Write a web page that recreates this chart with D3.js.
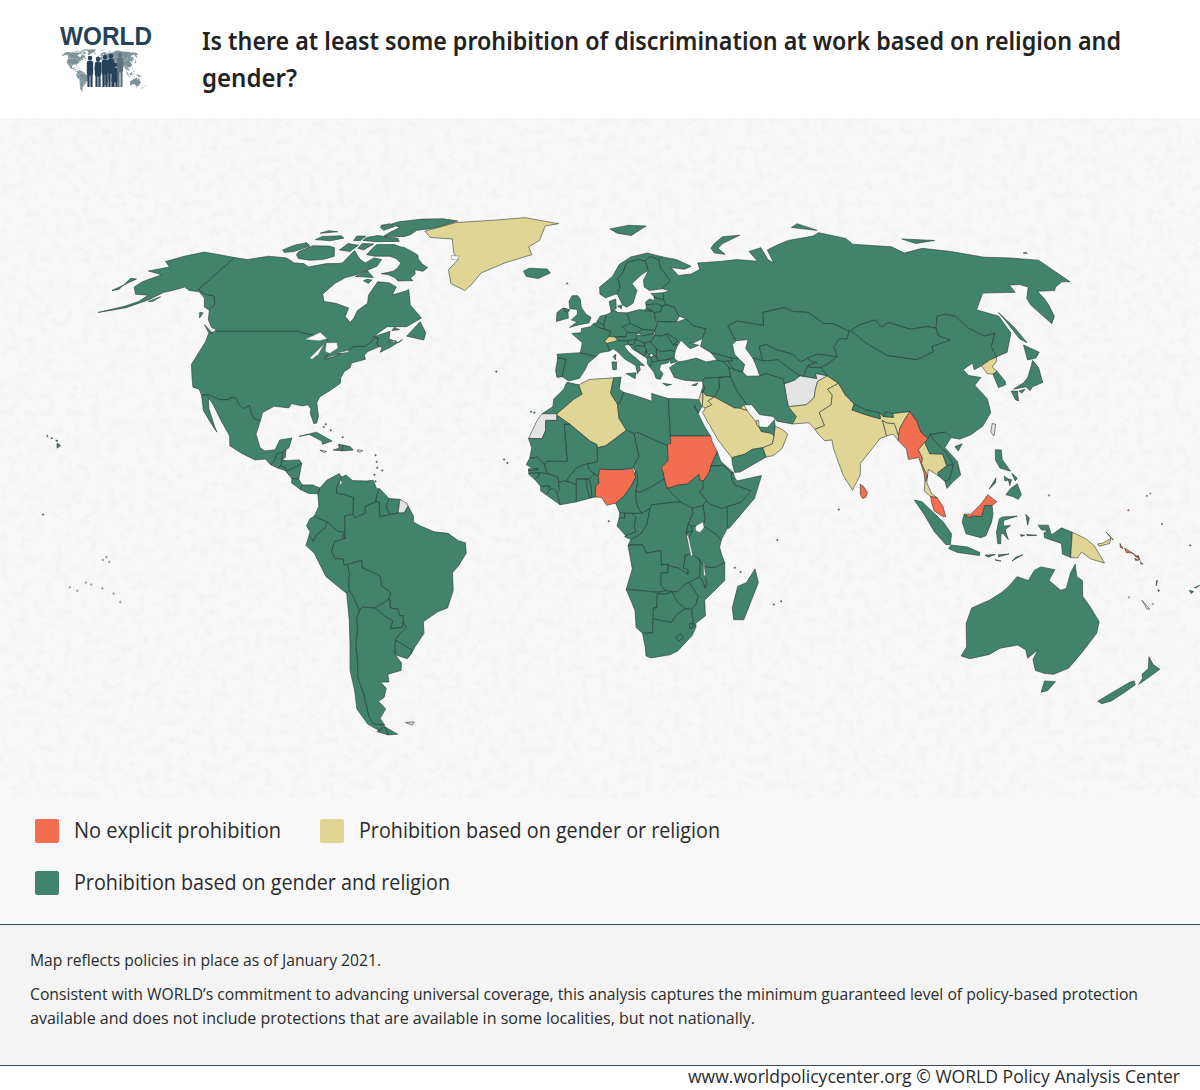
<!DOCTYPE html>
<html lang="en">
<head>
<meta charset="UTF-8" />
<title>Prohibition of discrimination at work</title>
<style>
  html, body { margin: 0; padding: 0; background: #fff; overflow: hidden; }
  svg { display: block; }
  text { font-family: "Open Sans", "Noto Sans", sans-serif; fill: #2b2b2b; }
</style>
</head>
<body>
<div id="app"></div>
<script src="https://cdn.jsdelivr.net/npm/d3@7"></script>
<script>
// Legend + country status, everything not listed here is green
const legendLabels = ["No explicit prohibition", "Prohibition based on gender or religion", "Prohibition based on gender and religion"];
const noProhibition = ["Nigeria", "Sudan", "Myanmar", "Sri Lanka", "Malaysia", "Malaysia East", "Solomon Islands", "Palau", "Pohnpei", "Nauru"];
const genderOrReligion = ["Greenland", "Algeria", "Saudi Arabia", "Oman", "Jordan", "Qatar", "Kuwait", "Israel", "Pakistan", "India", "Bangladesh", "Thailand", "Switzerland", "North Korea", "Papua New Guinea", "New Britain", "New Ireland", "Jamaica", "Kosrae"];
const noData = ["Afghanistan", "Western Sahara", "French Guiana", "Taiwan", "Puerto Rico", "New Caledonia", "Kosovo", "Falklands", "Marquesas", "Tahiti", "Tuamotu", "Loyalty", "Cooks"];

// Outlines as lon lat pairs
const northAmerica = [
  ["USA", "-124.7 48.4 -122.8 49 -95.2 49 -94.6 48.7 -92 48.3 -89.6 48 -88.4 48.3 -84.8 46.8 -83.6 46 -82.5 45.3 -82.1 43.5 -82.5 42.6 -83.1 42.1 -82.7 41.7 -79 42.8 -79.1 43.3 -76.8 43.6 -76.3 44.2 -75 45 -71.5 45 -70.3 45.9 -69.2 47.4 -68.2 47.3 -67.8 45.7 -67 44.9 -70 43.7 -70.8 42.8 -70 41.7 -74 40.7 -74 39.5 -75.5 38.5 -76 37 -75.7 35.5 -77.9 33.9 -81 32 -81.4 30.5 -80.1 27 -80.3 25.3 -81.1 25.2 -82.7 27.8 -82.8 29 -84 30 -85.5 29.7 -89 30.3 -89.5 29.2 -91.5 29.4 -94 29.6 -97.1 28 -97.2 25.9 -99.2 26.4 -100.5 28 -101.5 29.8 -103.2 29 -104.7 30 -106.5 31.8 -108.2 31.8 -108.2 31.3 -111 31.3 -114.8 32.5 -117.1 32.5 -118.5 34 -120.6 34.5 -122.5 37.5 -124.3 40.4 -124.1 43 -124 46.3", "-156 20.2 -154.9 19.6 -155.7 18.9 -156 19.6", "-156.7 21 -156 20.8 -156.4 20.6", "-158.3 21.6 -157.7 21.4 -158.1 21.3"],
  ["Alaska", "-141 69.6 -148 70.4 -156.5 71.3 -162 70 -166.5 68.4 -162 66.8 -168 65.6 -161 64.5 -165 62.5 -165.5 61 -162 59 -157 58.7 -158 57 -161 55.7 -168 54 -164 54.6 -160 55.3 -155 57.5 -152.5 59.5 -150 60 -147 61 -144 60 -140 59.7 -136 58 -133 55.5 -130.3 54.6 -130 56 -133 58.5 -137 59 -141 60.3", "-154.5 57 -152 58.3 -153 57", "-172 60 -170 60.3 -171 63.5 -168.5 63.3"],
  ["Canada", "-141 69.6 -135 69 -128 70 -120 69.5 -115 68 -111 67.8 -108 66.8 -102 67.8 -98 67.8 -96 68 -95.5 71.8 -92 70 -90 69 -87 68 -85 69.5 -81.5 69 -81.5 67 -87 64.5 -90.5 63.7 -93 62 -94.7 59 -92.5 57 -88 56.5 -82.5 55.2 -82.2 52.9 -79.5 51.3 -79 52.5 -79 54.5 -76.8 56.5 -78 58.7 -77.5 62.5 -73 62.2 -69.5 61 -69.5 58.8 -65.5 59.8 -64.5 60.3 -61.5 56 -56 52.5 -60 50.2 -66.5 50.2 -70 47.5 -65 49 -64.5 47 -61 46 -60 46.8 -63.5 44.6 -66 43.5 -65.8 44.8 -67 44.9 -67.8 45.7 -68.2 47.3 -69.2 47.4 -70.3 45.9 -71.5 45 -75 45 -76.3 44.2 -76.8 43.6 -79.1 43.3 -79 42.8 -82.7 41.7 -83.1 42.1 -82.5 42.6 -82.1 43.5 -82.5 45.3 -83.6 46 -84.8 46.8 -88.4 48.3 -89.6 48 -92 48.3 -94.6 48.7 -95.2 49 -122.8 49 -123.3 49.5 -125 50 -128 52 -130.3 54.6 -130 56 -133 58.5 -137 59 -141 60.3",
    "-89 72 -88.5 73.7 -85 73.7 -81 73.7 -78 73 -76 72.8 -71 71.3 -68 70.3 -67 69.2 -64 67.5 -61.5 66.6 -62.5 65.5 -66 66 -65 64.8 -66 63.5 -64.5 62.8 -67 62.8 -70 62.7 -72 63.7 -75 64.5 -78 64.8 -74 65.5 -73 66.5 -73 68 -76 69.3 -79 70 -85 70 -89 70.5",
    "-117.5 70.5 -118 71.5 -115 73.3 -108 73.2 -105 72.7 -101.5 70 -105 69 -110 68.8 -115 69.3",
    "-125.5 72 -123 73.5 -119 74.3 -116 73.2 -120 71.5 -123.5 71.2",
    "-89 76.5 -80 76.3 -78 77 -77 78.5 -72 79 -67 80 -62 82.2 -70 83.1 -80 83 -90 81.8 -92 80.8 -86 79.5 -88 78",
    "-96 80.3 -93 81 -89 79.8 -92 78.5 -95 79.5",
    "-96 76 -92 76.7 -82 75.8 -80 74.7 -90 74.6 -96 75",
    "-117 75.3 -110 74.9 -105.5 75.8 -108 76.6 -116 76.4",
    "-100 75 -97 75 -97 76.5 -101 76.5",
    "-102 72 -97 71.5 -96 73.5 -101 74",
    "-95 74 -90 73.9 -92 72 -95 72.5",
    "-119 77.5 -112 78 -117 78.4",
    "-59 47.7 -53 46.7 -53 48.6 -56 51.5", "-87 64 -80 63.7 -84 65.7", "-128 50.7 -123.5 48.5 -125 48.7", "-64.4 46.3 -62 45.9 -62 46.5", "-133 54 -131.7 53.9 -131.5 52.5", "-64 50 -62 49.4 -64.5 49.2", "-83 62.8 -80.5 62 -80 63 -82 63.2"],
  ["Greenland", "-73 78.2 -68 76 -58 75.5 -54 71 -51 69 -53 66 -50 62 -44 60 -42 62 -40 65 -32 68 -22 70.5 -24 73 -20 75 -19 80 -13 81 -30 83.6 -45 82.5 -62 81.5"],
  ["Mexico", "-117.1 32.5 -114.8 32.5 -111 31.3 -108.2 31.3 -108.2 31.8 -106.5 31.8 -104.7 30 -103.2 29 -101.5 29.8 -100.5 28 -99.2 26.4 -97.2 25.9 -97.8 22.5 -96 19 -94.5 18.2 -91.5 18.5 -90.5 21 -87 21.5 -87.5 19 -88.3 18.5 -89.1 17.9 -91 17.3 -90.9 16.3 -92.2 14.6 -94 16.1 -97 15.9 -101 17.5 -105 19.5 -105.5 22 -109 26 -112.5 30 -114.7 31.8 -113.5 29 -110.5 24.5 -109.5 23 -112 25.5 -115 28.5"],
  ["Guatemala", "-92.2 14.6 -90.9 16.3 -91 17.3 -89.1 17.9 -89.2 15.9 -88.2 15.7 -89.3 14.4 -90.1 13.8"],
  ["Belize", "-89.1 17.9 -88.3 18.5 -88.2 16.5 -89.2 15.9"],
  ["El Salvador", "-90.1 13.8 -89.3 14.4 -87.8 13.9 -87.8 13.2"],
  ["Honduras", "-89.2 15.9 -88.2 15.7 -84 15.9 -83.2 15 -85 14 -87 13 -87.8 13.2 -87.8 13.9 -89.3 14.4"],
  ["Nicaragua", "-87.7 13 -85 14 -83.2 15 -83.7 11 -85.7 11.1"],
  ["Costa Rica", "-85.7 11.1 -83.7 11 -82.6 9.5 -83 8.3 -85.7 10"],
  ["Panama", "-83 8.3 -82.6 9.5 -79.5 9.5 -77.4 8.7 -77.9 7.2 -80.5 7.3 -81.5 7.7"],
  ["Cuba", "-85 21.9 -80 23 -75 20.7 -77.7 19.9 -78 20.7 -82 22.4"],
  ["Haiti", "-74.4 18.4 -71.7 18.2 -71.7 19.7 -73 19.9 -72.7 18.9"],
  ["Dominican Republic", "-71.7 18.2 -68.5 18.4 -69.5 19.3 -71.7 19.7"],
  ["Jamaica", "-78.3 18.4 -76.3 18.1 -77 17.8"],
  ["Puerto Rico", "-67.2 18.5 -65.7 18.3 -66.3 17.9 -67.2 18"]
];

const southAmerica = [
  ["Colombia", "-77.9 7.2 -77.4 8.7 -75.5 10.7 -72 12.4 -71.3 11.5 -72.5 9 -72.5 7.4 -70 7 -67.5 6.2 -67.5 2 -70 1.5 -69.8 -0.5 -69.9 -4.2 -70.7 -3.8 -70 -2.7 -72 -2.4 -75 0 -78.8 1.4 -77.5 4"],
  ["Venezuela", "-71.3 11.5 -70 12 -68 10.6 -64 10.5 -62 10.7 -60.9 8.6 -60 8.5 -60.7 7 -61 5.2 -60.7 5.2 -64 4 -64 2.3 -67 1 -67.5 2 -67.5 6.2 -70 7 -72.5 7.4 -72.5 9"],
  ["Guyana", "-60 8.5 -57.2 6 -58 4 -56.9 1.9 -59.8 1.3 -60 5 -60.7 5.2 -61 5.2 -60.7 7"],
  ["Suriname", "-57.2 6 -54 5.8 -54.5 2.3 -56.9 1.9 -58 4"],
  ["French Guiana", "-54 5.8 -52 4.8 -51.6 4.1 -52.7 2.3 -54.5 2.3"],
  ["Brazil", "-51.6 4.1 -50 1.5 -50 0 -48 -1 -44 -2.5 -40 -2.9 -37 -4.8 -35 -5.3 -34.8 -8 -37 -11 -39 -13 -39 -17.5 -41 -22 -44 -23 -48.5 -25.5 -48.7 -28.5 -52 -32 -53.4 -33.7 -53.2 -32.7 -57.6 -30.2 -55.8 -28.4 -53.8 -27 -54.6 -25.6 -54.3 -24 -55.4 -24 -55.7 -22.3 -58 -22 -57.8 -20 -58.1 -19.8 -57.5 -18 -60 -16.3 -60.2 -13.8 -65.3 -11.7 -65.3 -9.8 -69.6 -10.9 -70.6 -11 -70.6 -9.5 -73 -9.4 -74 -7.5 -73 -5 -69.9 -4.2 -69.8 -0.5 -70 1.5 -67.5 2 -67 1 -64 2.3 -64 4 -60.7 5.2 -60 5 -59.8 1.3 -56.9 1.9 -54.5 2.3 -52.7 2.3"],
  ["Ecuador", "-78.8 1.4 -75 0 -75.6 -1.5 -78.3 -3.4 -79.1 -5 -80.3 -3.4 -80 -2.5 -81 -1 -80 0.8"],
  ["Peru", "-75 0 -72 -2.4 -70 -2.7 -70.7 -3.8 -69.9 -4.2 -73 -5 -74 -7.5 -73 -9.4 -70.6 -9.5 -70.6 -11 -69.6 -10.9 -69 -13 -69.5 -15.5 -69.5 -17.5 -70.4 -18.3 -76 -14 -79 -8 -81.3 -6 -80.3 -3.4 -79.1 -5 -78.3 -3.4 -75.6 -1.5"],
  ["Bolivia", "-69.6 -10.9 -65.3 -9.8 -65.3 -11.7 -60.2 -13.8 -60 -16.3 -57.5 -18 -58.1 -19.8 -62.5 -22 -66.3 -21.8 -67.2 -22.8 -68.4 -19.5 -69.5 -17.5 -69.5 -15.5 -69 -13"],
  ["Paraguay", "-58.1 -19.8 -57.8 -20 -58 -22 -55.7 -22.3 -55.4 -24 -54.3 -24 -54.6 -25.6 -55 -27 -58.6 -27.3 -57.6 -25.3 -60 -24 -62.5 -22"],
  ["Uruguay", "-57.6 -30.2 -53.2 -32.7 -53.4 -33.7 -54.9 -35 -58.4 -34 -58.2 -32"],
  ["Argentina", "-66.3 -21.8 -62.5 -22 -60 -24 -57.6 -25.3 -58.6 -27.3 -55 -27 -54.6 -25.6 -53.8 -27 -55.8 -28.4 -57.6 -30.2 -58.2 -32 -58.4 -34 -57 -36 -57.6 -38 -62 -39 -62.3 -41 -65 -41 -63.7 -42.6 -65.3 -45 -67.5 -46 -66 -48 -69 -50.5 -68.4 -52.3 -72 -52 -72.5 -50 -71.5 -44 -71.8 -40 -70.5 -36 -70 -32 -68.4 -27 -68.3 -24.5 -67.2 -22.8", "-68.6 -52.7 -65.2 -54.7 -68.6 -54.9"],
  ["Chile", "-70.4 -18.3 -69.5 -17.5 -68.4 -19.5 -67.2 -22.8 -68.3 -24.5 -68.4 -27 -70 -32 -70.5 -36 -71.8 -40 -71.5 -44 -72.5 -50 -72 -52 -68.4 -52.3 -71 -53.8 -74 -52 -75.5 -48 -74 -43 -73.5 -38 -71.5 -31 -70.5 -25", "-68.6 -52.7 -68.6 -54.9 -72 -54"],
  ["Falklands", "-61 -51.6 -58 -51.4 -59 -52.3"]
];

const africa = [
  ["Morocco", "-5.9 35.8 -2.2 35.1 -1.2 32.7 -3.7 31.4 -8.7 27.7 -13.2 27.7 -10 29.5 -9.8 31.5 -6.8 34"],
  ["Western Sahara", "-13.2 27.7 -8.7 27.7 -8.7 26 -12 26 -12 23.4 -13 21.3 -17 21.4 -14.6 26"],
  ["Algeria", "-2.2 35.1 1 36.5 8.6 36.9 7.5 33 9.5 30.2 9.9 26.5 12 23.5 5.8 19.5 3.3 19 3.2 19.8 1.2 20.7 -4.8 25 -8.7 27.3 -8.7 27.7 -3.7 31.4 -1.2 32.7"],
  ["Tunisia", "8.6 36.9 10.9 37.1 10.2 34 11.5 33.2 10.2 30.3 9.5 30.2 7.5 33"],
  ["Libya", "11.5 33.2 15.2 32.3 20 30.9 20 32.9 25 31.6 25 20 24 20 24 19.5 15 23 14.2 22.6 12 23.5 9.9 26.5 9.5 30.2 10.2 30.3"],
  ["Egypt", "25 31.6 31 31.5 34.2 31.3 34.9 29.5 33.7 27.8 32.6 29.9 35.5 24 36.9 22 25 22"],
  ["Sudan", "25 22 36.9 22 37.3 20.5 38.6 18 36.5 14.3 36 12.7 34.2 10.5 33.2 10.7 32.9 12.2 32.4 11.8 29.5 9.7 27 9.5 24.2 8.7 23.5 8.7 22.8 11 22.5 12.6 22 14 24 15.7 24 20 25 20"],
  ["South Sudan", "24.2 8.7 27 9.5 29.5 9.7 32.4 11.8 32.9 12.2 33.2 10.7 34.2 10.5 34 8.5 33 7.8 35 5.5 33.9 4.2 30.8 3.5 27.4 5.1 23.5 8.7"],
  ["Chad", "14.2 22.6 15 23 24 19.5 24 15.7 22 14 22.5 12.6 22.8 11 19 9 15.6 7.5 14.5 8 15 10 15 12 14.5 13 13.6 14 15.5 16.8"],
  ["Niger", "12 23.5 14.2 22.6 15.5 16.8 13.6 14 13.5 13.7 10.7 13.4 6.7 13.4 4 13.5 3.6 11.7 2.4 12.3 1 13.3 0.3 14.9 3.3 15.4 3.3 19 5.8 19.5"],
  ["Mali", "-12.2 14.8 -11.5 15.6 -5.5 15.5 -6.5 25 -4.8 25 1.2 20.7 3.2 19.8 3.3 19 3.3 15.4 0.3 14.9 -2 14.2 -3 13.6 -5.3 11.1 -5.3 10.3 -6.2 10.5 -8 10.2 -8.3 11.5 -11.4 12.4"],
  ["Mauritania", "-17 21.4 -13 21.3 -12 23.4 -12 26 -8.7 26 -8.7 27.3 -4.8 25 -6.5 25 -5.5 15.5 -11.5 15.6 -12.2 14.8 -14.3 16.6 -16.5 16.3 -16 19"],
  ["Senegal", "-16.5 16.3 -14.3 16.6 -12.2 14.8 -11.4 12.4 -13.7 12.6 -16.7 12.4 -16.8 13.2 -15.5 13.6 -17.5 14.7"],
  ["Gambia", "-16.8 13.6 -14 13.7 -14 13.3 -16.8 13.2"],
  ["Guinea-Bissau", "-16.7 12.4 -13.7 12.6 -13.7 11.7 -15 11 -16.5 12"],
  ["Guinea", "-13.7 12.6 -11.4 12.4 -8.3 11.5 -8 10.2 -7.7 8.3 -8.5 7.6 -9.5 8.5 -10.6 8.3 -10.6 9.2 -13.2 9.1 -15 11 -13.7 11.7"],
  ["Sierra Leone", "-13.2 9.1 -10.6 9.2 -10.6 8.3 -11.5 6.9 -13.2 8"],
  ["Liberia", "-11.5 6.9 -10.6 8.3 -9.5 8.5 -8.5 7.6 -7.5 4.4"],
  ["Ivory Coast", "-7.5 4.4 -8.5 7.6 -7.7 8.3 -8 10.2 -6.2 10.5 -5.3 10.3 -2.8 9.6 -2.8 5.5 -3.1 5.1"],
  ["Burkina Faso", "-5.3 11.1 -3 13.6 -2 14.2 0.3 14.9 1 13.3 2.4 12.3 0.9 11 -2.8 11 -2.8 9.6 -5.3 10.3"],
  ["Ghana", "-3.1 5.1 -2.8 5.5 -2.8 11 0 11 0.5 8 1.2 6.1"],
  ["Togo", "0 11 0.9 11 1.5 9.3 1.7 6.2 1.2 6.1 0.5 8"],
  ["Benin", "0.9 11 2.4 12.3 3.6 11.7 3.8 10 2.8 9 2.7 6.4 1.7 6.2 1.5 9.3"],
  ["Nigeria", "2.7 6.4 2.8 9 3.8 10 3.6 11.7 4 13.5 6.7 13.4 10.7 13.4 13.5 13.7 14.2 12.4 14.5 11.5 13 9 11 6.6 8.6 4.8 6 4.3 4.5 6.3"],
  ["Cameroon", "8.6 4.8 11 6.6 13 9 14.5 11.5 14.2 12.4 14.5 13 15 12 15 10 14.5 8 14.5 6 15 4 16.2 2.2 13.3 2.2 9.8 2.3"],
  ["Central African Republic", "14.5 6 14.5 8 15.6 7.5 19 9 22.8 11 23.5 8.7 27.4 5.1 25 5 19 4.4 18.6 3.5 16.2 2.2 15 4"],
  ["Equatorial Guinea", "9.8 2.3 11.3 2.2 11.3 1 9.6 1"],
  ["Gabon", "9.6 1 11.3 1 11.3 2.2 13.3 2.2 14.5 1.2 14 -1 14.5 -2.5 11.5 -3.5 9 -1"],
  ["Congo", "11.2 -3.8 13 -4.5 16 -3 17.7 -0.5 18.6 3.5 16.2 2.2 13.3 2.2 14.5 1.2 14 -1 14.5 -2.5 11.5 -3.5"],
  ["DR Congo", "12.2 -6 13 -4.5 16 -3 17.7 -0.5 18.6 3.5 19 4.4 25 5 27.4 5.1 30.8 3.5 31 2.2 29.6 -0.6 29.1 -2.7 29.4 -4.5 30.7 -8.2 28.9 -8.5 28.4 -11.8 29.8 -12.2 29.8 -13.4 27 -11.8 24.4 -11.3 23.9 -10.8 22 -11 21.7 -7.3 17.5 -8 16.5 -5.9 13 -5.9"],
  ["Angola", "12.2 -6 13 -5.9 16.5 -5.9 17.5 -8 21.7 -7.3 22 -11 23.9 -10.8 24 -13 22 -13 22 -16.2 23.4 -17.6 21 -18 14 -17.4 11.8 -17.3 13.5 -12"],
  ["Zambia", "23.9 -10.8 24.4 -11.3 27 -11.8 29.8 -13.4 29.8 -12.2 28.4 -11.8 28.9 -8.5 30.7 -8.2 33 -9.5 33.3 -11 33.2 -14 30.2 -15.5 28.9 -16 27 -17.9 25.2 -17.8 23.4 -17.6 22 -16.2 22 -13 24 -13"],
  ["Malawi", "33 -9.5 34.5 -11.5 35 -14.5 35.5 -16 35 -17 34.3 -15.5 33.2 -14 33.3 -11"],
  ["Tanzania", "30.5 -1 33.9 -1 37.6 -3 39.2 -4.7 38.8 -6.5 39.5 -8.5 40.4 -10.4 37.5 -11.7 34.5 -11.5 33 -9.5 30.7 -8.2 29.4 -4.5 30.5 -3 30.8 -2.3"],
  ["Kenya", "33.9 4.2 35 5.5 36 4.5 39.5 3.5 41 4 41 -1.6 39.2 -4.7 37.6 -3 33.9 -1 34.5 1"],
  ["Uganda", "30.8 3.5 33.9 4.2 34.5 1 33.9 -1 30.5 -1 29.6 -0.6 31 2.2"],
  ["Rwanda", "29.6 -0.6 30.5 -1 30.8 -2.3 29.1 -2.7"],
  ["Burundi", "29.1 -2.7 30.8 -2.3 30.5 -3 29.4 -4.5"],
  ["Eritrea", "36.5 14.3 38.6 18 39.5 15.5 43 12.7 42.4 12.5 40 14.5 37.5 14.4"],
  ["Djibouti", "42.4 12.5 43 12.7 43.3 11.5 42.5 11"],
  ["Ethiopia", "36.5 14.3 37.5 14.4 40 14.5 42.4 12.5 42.5 11 43.3 9.5 48 8 45 5 42 4.2 41 4 39.5 3.5 36 4.5 35 5.5 33 7.8 34 8.5 34.2 10.5 36 12.7"],
  ["Somalia", "43.3 11.5 44 10.5 51.2 11.9 48.9 6 41.5 -1.6 41 -1.6 41 4 42 4.2 45 5 48 8 43.3 9.5 42.5 11"],
  ["Mozambique", "40.4 -10.4 40.6 -15 35 -20 35.5 -24 32.8 -25.9 32.9 -26.9 32 -26 31.3 -22.4 32.5 -21 33 -19 30.2 -15.5 33.2 -14 34.3 -15.5 35 -17 35.5 -16 35 -14.5 34.5 -11.5 37.5 -11.7"],
  ["Zimbabwe", "25.2 -17.8 27 -17.9 28.9 -16 30.2 -15.5 33 -19 32.5 -21 31.3 -22.4 29.4 -22.2 27 -20.5"],
  ["Namibia", "11.8 -17.3 14 -17.4 21 -18 23.4 -17.6 25.2 -17.8 23.5 -18.5 21 -18.3 21 -22 20 -22 20 -28.4 17 -28.5 15 -27 14.5 -22.5"],
  ["Botswana", "21 -18.3 23.5 -18.5 25.2 -17.8 27 -20.5 29.4 -22.2 27 -23.7 25.5 -25.7 23 -25.3 20 -24.8 20 -22 21 -22"],
  ["South Africa", "17 -28.5 20 -28.4 20 -24.8 23 -25.3 25.5 -25.7 27 -23.7 29.4 -22.2 31.3 -22.4 32 -26 32.9 -26.9 32 -29 28 -33 25.7 -34 20 -34.8 18.4 -34.3 18 -32"],
  ["Lesotho", "27 -29.6 28.5 -28.6 29.4 -29.6 28 -30.5"],
  ["Eswatini", "31 -26 32 -26 32 -27.2 31 -27.2"],
  ["Madagascar", "49.3 -12 50.5 -15.5 47 -25 44 -25 43.3 -22 44.5 -16.5 47 -15.5"]
];

const europe = [
  ["Portugal", "-9 42 -8 42 -6.3 41.6 -7 39 -7.4 37.2 -9 37 -9.5 38.8"],
  ["Spain", "-9.3 43 -1.8 43.4 3.2 42.4 0.7 40.7 -0.3 39 -2 36.8 -5.3 36.1 -7.4 37.2 -7 39 -6.3 41.6 -8 42 -9 42"],
  ["France", "-1.8 43.4 3.2 42.4 4.5 43.4 7.5 43.8 7 45.8 6 46.3 7.6 47.6 8.2 49 6.2 49.5 4.2 50 2.5 51 1.5 50.2 -1.5 49.7 -1.6 48.6 -4.7 48.4 -1.2 46", "8.6 42.4 9.5 43 9.4 41.5"],
  ["Belgium", "2.5 51 4.2 51.4 6 50.7 6.2 49.5 4.2 50"],
  ["Netherlands", "3.6 51.4 4.8 53 7 53.4 6 50.7 4.2 51.4"],
  ["Germany", "6 50.7 7 53.4 8.7 54 9.5 54.8 11 54 14.2 53.9 14.6 52 15 51 12.2 50.2 13.7 48.7 13 47.5 9.6 47.5 7.6 47.6 8.2 49 6.2 49.5"],
  ["Switzerland", "6 46.3 7 45.8 10.4 46.5 9.6 47.5 7.6 47.6"],
  ["Austria", "9.6 47.5 13 47.5 13.7 48.7 17 48.6 16.3 46.8 13.7 46.5 10.4 46.5"],
  ["Italy", "7.5 43.8 8.8 44.4 10.3 43.5 12.2 41.8 15.7 40 16 38 17 39 16.7 40.2 18.4 40 16 41.9 13.6 43.6 12.3 45.2 13.7 45.6 13.7 46.5 10.4 46.5 7 45.8", "12.5 38 15.6 38.2 15.2 36.7", "8.2 41 9.7 41 9.5 39 8.4 39"],
  ["Denmark", "8.2 57 10.6 57.7 10.5 55 9.5 54.8 8.7 54", "11 55.7 12.5 56 12.3 55"],
  ["United Kingdom", "-5 58.6 -3 58.6 -2 57.6 -1.7 55.5 0 53.5 1.7 52.7 1 51.2 -3 50.6 -5.5 50 -3 51.5 -5 52 -3 53.4 -3 54.8 -5.6 55 -6 57", "-7.3 55.1 -5.6 54.7 -6.2 54 -7.5 54.4"],
  ["Ireland", "-10 54 -8 55.2 -7.3 55.1 -7.5 54.4 -6.2 54 -6 52.5 -10 51.6"],
  ["Iceland", "-24 65.5 -22 66.4 -15 66.2 -13.6 65 -18 63.4 -22.5 64"],
  ["Norway", "5 61 5 59 7 58 10.5 59 11.3 59 12.5 61 12 63.5 14 65 16 68 20.5 69 23.5 68.6 26 69.9 29 69 30.8 69.8 25 71 18 69.8 13 67.5 10 64", "11 79 20 80.3 28 80 20 76.7 14 77.5"],
  ["Sweden", "11.3 59 12.8 56 14.2 55.4 16.5 56.5 18.5 60 17 62 21 64.5 24 65.8 23.5 68.6 20.5 69 16 68 14 65 12 63.5 12.5 61"],
  ["Finland", "24 65.8 21.5 63 21.3 61 23 60 27.8 60.5 31.5 62.8 29 66.5 29 69 26 69.9 23.5 68.6"],
  ["Estonia", "23.4 59.2 28 59.4 27.5 57.5 25 57.9 24.3 58.3"],
  ["Latvia", "21 56.8 22.5 57.7 24.3 57.2 24.3 58.3 25 57.9 27.5 57.5 28.2 56.1 26.5 55.7 25 56.3 21 56.1"],
  ["Lithuania", "21 56.1 25 56.3 26.5 55.7 25.8 54.2 23.5 54 22.8 54.4 21 55.2"],
  ["Poland", "14.2 53.9 18.5 54.8 22.8 54.4 23.5 54 23.6 52 24 50.8 22.8 49.2 19 49.4 15 51 14.6 52"],
  ["Belarus", "23.5 54 25.8 54.2 26.5 55.7 28.2 56.1 30.8 55.5 31.8 53 30.5 51.4 24 51.6 23.6 52"],
  ["Ukraine", "24 51.6 30.5 51.4 34 52.3 36 50.4 40 49.7 38.2 47.1 35 46 33.5 46 36.5 45.3 33.5 44.4 32.5 45.3 31 46.6 29.7 45.3 28.2 45.5 30 46.4 27 48.4 26.6 48.2 24.9 47.7 22.8 47.9 22.8 49.2 24 50.8"],
  ["Czechia", "12.2 50.2 15 51 18.8 49.5 17 48.6 13.7 48.7"],
  ["Slovakia", "17 48.6 18.8 49.5 19 49.4 22.8 49.2 22.3 48.3 18.8 47.8"],
  ["Hungary", "16.3 46.8 17 48 18.8 47.8 22.3 48.3 22.8 47.9 21 46.2 19 45.9"],
  ["Slovenia", "13.7 45.5 13.7 46.5 16.3 46.8 15.5 45.5"],
  ["Croatia", "13.7 45.5 15.5 45.5 16.3 46.8 19 45.9 19 45 16 45.2 15.8 44.5 18.5 42.5 15 44.3 14.3 45.2"],
  ["Bosnia", "16 45.2 19 45 19.5 44 18.5 42.5 15.8 44.5"],
  ["Serbia", "19 45.9 21 46.2 22.7 44.4 22.4 42.3 21.7 42.5 21 43.2 20.3 42.9 19.2 43.5 19.5 44 19 45"],
  ["Kosovo", "20.3 42.9 21 43.2 21.7 42.5 20.7 42.2 20.1 42.5"],
  ["Montenegro", "18.5 42.5 19.5 44 19.2 43.5 20.3 42.9 20.1 42.5 19.4 41.9"],
  ["Albania", "19.4 41.9 20.1 42.5 20.7 42.2 21 40.9 20 39.7 19.4 40.5"],
  ["North Macedonia", "20.7 42.2 21.7 42.5 22.4 42.3 23 41.3 21 40.9"],
  ["Greece", "20 39.7 21 40.9 23 41.3 26.3 41.7 26 40.8 23.5 40.3 23 39 24 38 23 36.5 21.7 36.8 21.2 38.3", "23.6 35.5 26.3 35.2 24.8 34.9"],
  ["Bulgaria", "22.7 44.4 24 43.7 27 44 28.6 43.7 28 42 26.3 41.7 23 41.3 22.4 42.3"],
  ["Romania", "21 46.2 22.8 47.9 24.9 47.7 26.6 48.2 28.2 45.5 29.7 45.3 28.6 43.7 27 44 24 43.7 22.7 44.4"],
  ["Moldova", "26.6 48.2 27 48.4 30 46.4 28.2 45.5"],
  ["Cyprus", "32.5 35 34.5 35.6 33.8 34.9"]
];

const asia = [
  ["Russia", "28.2 56.1 27.5 57.5 28 59.4 30.2 60 27.8 60.5 31.5 62.8 29 66.5 29 69 30.8 69.8 36 69 41 67 38 66.1 33 66.6 35 64.3 40 64.7 44 66.1 44 68 54 68.5 60 69 68 68.5 67 71.5 73 72.7 72.5 69 74 68 75 72 80.5 73.5 87 75 100 76.5 104.5 77.7 113 75.7 113 73.8 128 73 130 71 140 72.5 150 71.5 160 69.7 170 69.5 180 68.8 180 62.5 177 62.5 172 61 170 60 163.5 59.8 163 57.8 162 56 160 53 156.7 51 155.7 56 156.8 57.8 162 61 160 61.7 156 61.6 155 59.5 143 59.3 135.2 54.7 141 53 140.5 48.5 135 43.5 130.7 42.3 130.7 43 131 45 135 48.4 131 47.7 127.5 49.8 126 53 123 53.5 120 53 116.7 49.8 114 50.2 108 49.5 102 51.3 98.5 50 98 52 92 50.7 87.8 49.2 87.3 49 83 51 80 51 76.5 54 71 54.3 69 55.3 61 54 59.5 50.5 51 51.7 47.5 50.4 49 46.5 47.5 45.5 47.5 43 48.5 41.8 46 42 40 43.4 37 45 38.2 47.1 40 49.7 36 50.4 34 52.3 31.8 53 30.8 55.5",
    "20 54.4 22.8 54.4 21 55.2", "142 54 143 50 143.5 46 142 47 142 52", "52.5 71 56.5 70.6 55 72.5 58 74 68 76.8 60 76.3 54.5 74 52 72.5", "95 79.5 105 78.5 100 81", "137 75.5 150 75 140 74", "178.5 71 180 71.2 180 70.9"],
  ["Kazakhstan", "47.5 50.4 51 51.7 59.5 50.5 61 54 69 55.3 71 54.3 76.5 54 80 51 83 51 87.3 49 85.5 47 83 47 80.2 45 80 42.3 74 43 70.5 42 68 41 66 43 61 44.2 58.5 45.5 56 45 56 41.3 53 42 51.5 44.5 53 46.8 49 46.5"],
  ["Uzbekistan", "56 45 58.5 45.5 61 44.2 66 43 68 41 70.5 42 71 41.2 73 40.8 70 40.2 68 38 67.7 37.2 66.5 37.4 64 39 61 41.5 57 41.3 56 41.3"],
  ["Turkmenistan", "53 42 56 41.3 57 41.3 61 41.5 64 39 66.5 37.4 64.5 36.3 61 35.3 61 36.6 56 38 54 37.4 53.5 40"],
  ["Kyrgyzstan", "70.5 42 74 43 80 42.3 76 40.4 73.8 39.5 70 39.6 70 40.2 73 40.8 71 41.2"],
  ["Tajikistan", "68 38 70 40.2 70 39.6 73.8 39.5 75 37.4 71.5 38 71.5 36.7 68 37.2 67.7 37.2"],
  ["Afghanistan", "61 35.3 64.5 36.3 66.5 37.4 67.7 37.2 68 37.2 71.5 36.7 71.5 38 75 37.4 71.5 36 70 33.5 69.3 31.8 66.5 30 61 29.5 60.9 31.5"],
  ["Iran", "44.8 39.7 46.5 39 48.9 38.4 50 37.3 54 37.4 56 38 61 36.6 61 35.3 60.9 31.5 61 29.5 63 27 61.5 25.1 57 25.8 56 27 52 27.5 50 30 48.5 30 46.5 33 45.5 35 44.8 37.2"],
  ["Turkey", "26.2 39.5 29 41 31.5 41.3 35 42 38 41 41.5 41.5 43.5 41.1 44.8 39.7 44.8 37.2 42.4 37.1 36.7 36.8 36 36 33 36.1 30.5 36.3 27.4 37", "26.3 41.7 28 42 29 41.2 26.8 40.6"],
  ["Georgia", "40 43.4 46 42 46.5 41.2 45 41.2 43.5 41.1 41.5 41.5"],
  ["Armenia", "43.5 41.1 45 41.2 46.5 39 44.8 39.7"],
  ["Azerbaijan", "45 41.2 46.5 41.2 46 42 48.5 41.8 50 40.4 48.9 38.4 46.5 39"],
  ["Iraq", "42.4 37.1 44.8 37.2 45.5 35 46.5 33 48.5 30 47.7 30 46.5 29.1 44.7 29.2 39 32 41 34.5 41 36.7"],
  ["Syria", "36 36 36.7 36.8 42.4 37.1 41 36.7 41 34.5 39 32 36.5 32.4 35.7 33.3 36.4 34.4 35.9 34.6"],
  ["Lebanon", "35.1 33.1 35.9 34.6 36.4 34.4 35.7 33.3"],
  ["Israel", "34.2 31.3 35.1 33.1 35.7 33.3 35.5 31.5 35 29.5 34.9 29.5"],
  ["Jordan", "35 29.5 35.5 31.5 35.7 33.3 36.5 32.4 39 32 37 31 38 30 36 29.2"],
  ["Saudi Arabia", "36 29.2 38 30 37 31 39 32 44.7 29.2 46.5 29.1 48.4 28.6 50 26.5 51 25 51.5 24.3 52 23.2 55 22.7 55.7 22 55 20 52 19 49 18.6 46.5 17.3 43.3 16.6 42.8 16.4 39 21 35 28"],
  ["Kuwait", "46.5 29.1 47.7 30 48.4 28.6"],
  ["Qatar", "50.8 24.8 51.5 24.3 51.5 26 50.8 26"],
  ["UAE", "51.5 24.3 54 24.2 56.3 26.2 56.3 24.5 55.7 22 55 22.7 52 23.2"],
  ["Oman", "56.3 24.5 58.5 23.6 59.8 22.5 57.8 18.9 55 17 52.8 16.6 52 19 55 20 55.7 22"],
  ["Yemen", "42.8 16.4 43.3 16.6 46.5 17.3 49 18.6 52 19 52.8 16.6 45 12.8 43.4 12.7 42.8 15"],
  ["Pakistan", "61 29.5 66.5 30 69.3 31.8 70 33.5 71.5 36 75 37.4 77.8 35.5 74 34 75 32.5 74 30 70 28 71 24.7 68 23.7 66.5 25.4 61.5 25.1 63 27"],
  ["India", "68 23.7 71 24.7 70 28 74 30 75 32.5 74 34 77.8 35.5 79 32.5 81 30.2 80 28.7 84 27.4 88 26.4 88.1 28 89 27 92 26.8 92 27.8 97.3 28.3 95 26 93.3 24 92.5 22 92 24.5 91.8 25.2 89.8 25.3 88.5 26 88.7 24.3 89 22 87 21.4 85 19.5 80.3 15 80 12 78 9 77.5 8.1 75 12 72.8 19 72.7 21 70.5 20.8 69 22.3"],
  ["Nepal", "81 30.2 80 28.7 84 27.4 88 26.4 88.1 28 84 28.8"],
  ["Bhutan", "89 27 92 26.8 92 27.8 90 28.2"],
  ["Bangladesh", "88.5 26 89.8 25.3 91.8 25.2 92 24.5 92.5 22 92.3 20.8 91 22.5 89 22 88.7 24.3"],
  ["China", "73.8 39.5 76 40.4 80 42.3 80.2 45 83 47 85.5 47 87.3 49 87.8 49.2 91 46 96 42.7 105 41.6 111.5 43.7 111.8 45 119 46.7 116 47.8 116.7 49.8 120 53 123 53.5 126 53 127.5 49.8 131 47.7 135 48.4 131 45 130.7 43 130.7 42.3 128 41.5 124.3 40 121.5 39 122 40.7 118 39 119 37.5 122.5 37 119.5 35 121.8 31.5 121.5 28 118 24.5 114 22.3 110.5 21.2 108 21.6 106.7 23 102 22.4 101.2 21.3 99.3 23 98.7 25.7 97.3 28.3 92 27.8 90 28.2 89 27 88.1 28 84 28.8 81 30.2 79 32.5 77.8 35.5 75 37.4", "108.7 19.3 111 20 109.5 18.2"],
  ["Taiwan", "121 25.2 122 25 120.8 22 120.1 23"],
  ["Mongolia", "87.8 49.2 92 50.7 98 52 98.5 50 102 51.3 108 49.5 114 50.2 116.7 49.8 116 47.8 119 46.7 111.8 45 111.5 43.7 105 41.6 96 42.7 91 46"],
  ["North Korea", "124.3 40 128 41.5 130.7 42.3 129.7 41 127.5 39.7 128.4 38.6 126.7 37.8 125 38"],
  ["South Korea", "126.7 37.8 128.4 38.6 129.4 36 129 35.1 126.5 34.4 126.6 37"],
  ["Japan", "130.9 34 135 35.7 137 37 140 40 141.5 41.4 142 39.5 140.8 35.7 137 34.6 135.8 33.6 135 34.6", "140 41.5 141.8 45.4 145.3 43.5 143 42", "130 33.5 131.9 33.5 131 31 130.2 31.3", "132.3 33.5 134.5 34 133 33"],
  ["Myanmar", "97.3 28.3 98.7 25.7 99.3 23 101.2 21.3 100 20.4 97.8 18.5 98.7 16.3 98.2 15 99.6 11.8 98.7 10.2 98.7 12.5 97.6 16.5 94.5 16 94.3 18.7 92.3 20.8 92.5 22 93.3 24 95 26"],
  ["Thailand", "100 20.4 101 17.5 104.8 17.4 105.5 14.4 102.7 12.6 102.9 11.7 100.9 13 100 13.4 99.2 10 100.5 7.2 102 6.2 100.1 6.5 98.3 8 98.7 10.2 99.6 11.8 98.2 15 98.7 16.3 97.8 18.5"],
  ["Laos", "101.2 21.3 102 22.4 103 20.7 105 18.7 106.7 16.5 107.5 14.7 105.5 14.4 104.8 17.4 101 17.5 100 20.4"],
  ["Cambodia", "102.9 11.7 102.7 12.6 105.5 14.4 107.5 14.7 106 11 104.5 10.4"],
  ["Vietnam", "102 22.4 106.7 23 108 21.6 105.7 19 108.8 15.5 109.3 12 107 10.4 105 8.6 104.5 10.4 106 11 107.5 14.7 106.7 16.5 105 18.7 103 20.7"],
  ["Malaysia", "100.1 6.5 102 6.2 103.5 4 104.3 1.4 103.4 1.4 101 2.8 100.4 4.5"],
  ["Malaysia East", "109.6 2 111.5 2 113 3.2 115 5 116.7 7 119.2 5.2 117.8 4.2 115.7 4.2 114.7 1.4 112 1.5 111 1.1"],
  ["Sri Lanka", "79.8 9.7 80.8 9 81.8 7.5 81.2 6.3 80.3 6 79.7 7"],
  ["Philippines", "120.5 18.5 122.2 18.4 122 16 124 13 121 13.8 120 15.9", "122 7 123.5 8.6 125.5 9.8 126.5 7 125.5 5.8 124 6.5", "117.2 8.4 119.5 11.3 119.2 10", "124.3 12.5 125.7 11.2 125 10.5", "122 11.8 123.2 10.8 122 10.5", "123 11 124 10.8 123.3 9.3"],
  ["Indonesia", "95.3 5.6 97.5 5.2 103.5 0 106 -3 105.8 -5.8 104.5 -5.8 101 -2.5 98 2", "109.6 2 111 1.1 112 1.5 114.7 1.4 115.7 4.2 117.8 4.2 118 2 117.5 0 116 -3.5 114.5 -4 110.2 -3 109 0", "105.3 -6.8 106 -5.9 110.8 -6.4 114.5 -7.8 114.4 -8.6 108 -7.8", "119.8 0.8 120.8 1.3 125 1.5 121 0.4 121 -1 123 -0.9 121.5 -2 122.5 -4.5 121 -3 120.3 -3 120.4 -5.6 119.5 -5.5 119 -2.5", "124 -10 127 -8.4 125 -9", "119.9 -8.4 123 -8.2 120 -8.9", "116 -8.5 119 -8.3 117 -9", "119 -9.6 120.8 -10 119.2 -9.8", "127.5 2 128.5 1 128 -0.8", "127.7 -3.2 130.8 -3.4 128 -3.5", "126 -3.2 127.2 -3.4 126.2 -3.7", "131 -0.8 134 -0.8 135 -3.3 137.8 -1.5 141 -2.6 141 -9.1 138.5 -8.2 138 -5.5 133 -4 132.8 -2.8 134 -2.2 132 -2"]
];

const oceania = [
  ["Australia", "114.2 -22 113.5 -26 115.7 -32 115 -34.3 118 -35 123.5 -33.9 126 -32.3 131 -31.5 134 -32.7 135.7 -34.9 137.7 -32.7 137.5 -35.2 140 -38 143.5 -38.8 146.4 -39 150 -37.4 151.5 -33.5 153.5 -28.5 153 -25.5 149.5 -22 146.3 -19 145.3 -15 143.5 -14 142.5 -10.8 141.5 -13 141 -17 139.5 -17.5 135.5 -15 136.8 -12.2 132.6 -11.5 130.8 -12.4 129.5 -15 126 -14 124 -16.5 122.3 -18 119 -20", "144.7 -40.7 148.3 -40.9 147.8 -43.2 146 -43.6"],
  ["New Zealand", "172.7 -34.5 175.5 -36.5 178.5 -37.7 177 -39.5 175.3 -41.6 175 -40 174 -39 174.8 -37.5", "173 -40.7 174.3 -41.7 172.8 -43.7 170.8 -45.9 168.5 -46.6 166.5 -46 168.5 -44 172 -41"],
  ["Papua New Guinea", "141 -2.6 145 -4.3 147.5 -6 151 -10.5 147 -9.5 144 -7.7 143 -9.2 141 -9.1"],
  ["New Britain", "148.5 -5.6 150 -5.4 152.2 -4.2 152 -5.5 149 -6.2"],
  ["New Ireland", "150.8 -2.6 153 -4.5 152.7 -4.5"],
  ["Solomon Islands", "155 -5.5 156 -6.8 155.2 -6.5", "156.5 -6.7 159 -8 157 -7.8", "159 -8 160.8 -9 160 -9", "160.5 -8.5 161.3 -9.8 160.8 -9.6", "159.7 -9.3 160.8 -9.8 159.9 -9.8", "161.4 -10.2 162.3 -10.8 161.6 -10.7"],
  ["Vanuatu", "167 -15 167.3 -15 167.2 -16.3", "168 -17.3 168.6 -17.6 168.2 -17.8"],
  ["Fiji", "177.3 -17.5 178.6 -17.8 178 -18.3", "178.6 -16.8 180 -16.2 179 -16.9"],
  ["New Caledonia", "164 -20 167 -22.3 166.2 -22.3"]
];

// Very small islands, too small to need an outline
const tinyIslands = [
  ["Kauai", -159.5, 22], ["Kiritimati", -157.4, 1.9],
  ["Cape Verde", -24, 16], ["Cape Verde", -23, 15.1], ["Canaries", -15.5, 28], ["Canaries", -16.5, 28.2], ["Azores", -28, 38.5], ["Faroe", -7, 62],
  ["Bahamas", -77.5, 25], ["Andros", -78, 24.3], ["Exuma", -75.8, 23.5], ["Turks", -72, 21.7],
  ["Antigua", -61.8, 17.1], ["Dominica", -61.3, 15.4], ["St Lucia", -61, 13.9], ["Barbados", -59.5, 13.2], ["Grenada", -61.7, 12.1], ["Trinidad", -61.3, 10.4],
  ["Sao Tome", 6.6, 0.2], ["Comoros", 43.4, -11.7], ["Mayotte", 45.1, -12.8], ["Seychelles", 55.5, -4.6],
  ["Mauritius", 57.6, -20.3], ["Reunion", 55.5, -21.1], ["Maldives", 73.3, 3.2], ["Palau", 134.5, 6.8], ["Pohnpei", 157.3, 3], ["Nauru", 166.9, -0.5], ["Kosrae", 162.9, 6.7], ["Kosrae", 164, 7.3],
  ["Tuvalu", 175.4, -6], ["Loyalty", 167.5, -21], ["Loyalty", 160, -19.3],
  ["Marquesas", -140.6, -9.7], ["Marquesas", -139.5, -9], ["Marquesas", -138.8, -10.2],
  ["Tahiti", -149.5, -17.6], ["Tahiti", -151.5, -16.7], ["Tuamotu", -145, -16], ["Tuamotu", -142, -17], ["Tuamotu", -146.5, -15.5], ["Tuamotu", -139, -18.3], ["Cooks", -137.5, -20.5]
];

// White cuts in the land
const lakes = [
  "-92 46.8 -88 48.7 -84.7 47 -87 46.5", "-87.8 42 -85 45.8 -85.5 43 -87 41.7", "-84.5 46 -81 46 -80 44.6 -82 43.2 -83.7 43.7",
  "-83.3 41.7 -79 42.8 -81 42.6", "-79.8 43.3 -76.2 44 -76.3 43.5 -78 43.3",
  "31.8 -1 33.9 0 34.2 -1.5 33 -2.7 31.8 -2.2", "29.2 -3.5 29.6 -3.3 31 -8.5 30.5 -8.7", "34.2 -9.7 35 -14 34.4 -13.5",
  "-71.5 10.8 -71 10 -71.8 9.5", "-54.5 70.3 -51 70 -51.5 69 -53.5 69"
];

// Robinson table, every 5 degrees of latitude
const robinsonLat = d3.range(0, 95, 5);
const robinsonX = [1, .9986, .9954, .99, .9822, .973, .96, .9427, .9216, .8962, .8679, .835, .7986, .7597, .7186, .6732, .6213, .5722, .5322];
const robinsonY = [0, .062, .124, .186, .248, .31, .372, .434, .4958, .5571, .6176, .6769, .7346, .7903, .8435, .8936, .9394, .9761, 1];

const colors = { red: "#f36d51", yellow: "#e1d595", green: "#41836b", grey: "#e3e3e3" };
const bg = "#f8f8f8";

const xAt = d3.scaleLinear().domain(robinsonLat).range(robinsonX);
const yAt = d3.scaleLinear().domain(robinsonLat).range(robinsonY);

function robinsonPath(R, cx, cy) {
  const t = d3.geoTransform({
    point(lon, lat) {
      const a = Math.abs(lat);
      this.stream.point(
        cx + R * .8487 * xAt(a) * lon * Math.PI / 180,
        cy - R * 1.3523 * Math.sign(lat) * yAt(a)
      );
    }
  });
  return d3.geoPath(t);
}

const ring = s => {
  const n = s.trim().split(/\s+/).map(Number);
  const r = d3.range(0, n.length, 2).map(i => [n[i], n[i + 1]]);
  r.push(r[0]);
  return r;
};

const countries = [...northAmerica, ...southAmerica, ...africa, ...europe, ...asia, ...oceania].map(c => ({
  type: "Feature",
  properties: { name: c[0] },
  geometry: { type: "MultiPolygon", coordinates: c.slice(1).map(s => [ring(s)]) }
}));
const dots = tinyIslands.map(d => ({
  type: "Feature",
  properties: { name: d[0] },
  geometry: { type: "Point", coordinates: [d[1], d[2]] }
}));
const lakeShapes = lakes.map(s => ({ type: "Polygon", coordinates: [ring(s)] }));

function fillOf(name) {
  if (noProhibition.includes(name)) return colors.red;
  if (genderOrReligion.includes(name)) return colors.yellow;
  if (noData.includes(name)) return colors.grey;
  return colors.green;
}

const svg = d3.select("#app").append("svg").attr("width", 1200).attr("height", 1090);

// paper grain on the map background
const defs = svg.append("defs");
const grain = defs.append("filter").attr("id", "grain").attr("x", 0).attr("y", 0).attr("width", "100%").attr("height", "100%");
grain.append("feTurbulence").attr("type", "fractalNoise").attr("baseFrequency", 0.11).attr("numOctaves", 4).attr("seed", 7);
grain.append("feColorMatrix").attr("values", "0 0 0 0 0.88  0 0 0 0 0.88  0 0 0 0 0.88  0 0 0 6 -3.1");

svg.append("rect").attr("width", 1200).attr("height", 1090).attr("fill", "#fff");
svg.append("rect").attr("y", 118).attr("width", 1200).attr("height", 806).attr("fill", bg);
svg.append("rect").attr("y", 118).attr("width", 1200).attr("height", 680).attr("filter", "url(#grain)").attr("opacity", 0.5);
svg.append("rect").attr("y", 925).attr("width", 1200).attr("height", 140).attr("fill", "#f4f4f4");
svg.append("line").attr("x1", 0).attr("x2", 1200).attr("y1", 924.5).attr("y2", 924.5).attr("stroke", "#3e4c5a");
svg.append("line").attr("x1", 0).attr("x2", 1200).attr("y1", 1065.5).attr("y2", 1065.5).attr("stroke", "#3e4c5a");

// Map
const path = robinsonPath(233, 586, 522).pointRadius(0.8);
const map = svg.append("g");
map.selectAll("path.country").data(countries).enter().append("path")
  .attr("class", "country")
  .attr("d", path)
  .attr("fill", d => fillOf(d.properties.name))
  .attr("stroke", "#22332c")
  .attr("stroke-opacity", 0.8)
  .attr("stroke-width", 0.7)
  .attr("stroke-linejoin", "round");
map.selectAll("path.lake").data(lakeShapes).enter().append("path")
  .attr("class", "lake")
  .attr("d", path)
  .attr("fill", bg)
  .attr("stroke", "#55605b")
  .attr("stroke-width", 0.4);
map.selectAll("path.dot").data(dots).enter().append("path")
  .attr("class", "dot")
  .attr("d", path)
  .attr("fill", d => fillOf(d.properties.name))
  .attr("stroke", "#333")
  .attr("stroke-width", 0.4);

// Header
const titleLines = ["Is there at least some prohibition of discrimination at work based on religion and", "gender?"];
const titleWidths = [919, 95];
svg.selectAll("text.title").data(titleLines).enter().append("text")
  .attr("class", "title")
  .attr("x", 202)
  .attr("y", (d, i) => 50 + i * 37)
  .attr("textLength", (d, i) => titleWidths[i])
  .attr("lengthAdjust", "spacingAndGlyphs")
  .style("font-family", "'Noto Sans'")
  .style("font-size", "25px")
  .style("font-weight", 600)
  .style("fill", "#222")
  .text(d => d);

// Logo: little world map with the group of people in front of it
const logo = svg.append("g");
logo.append("text").attr("x", 60).attr("y", 44.5).attr("textLength", 92).attr("lengthAdjust", "spacingAndGlyphs")
  .style("font-family", "'Liberation Sans'").style("font-size", "26px").style("font-weight", 700).style("fill", "#264259").text("WORLD");
const logoPath = robinsonPath(19, 99, 74);
logo.selectAll("path").data(countries).enter().append("path").attr("d", logoPath).attr("fill", "#7e929b");
const peopleX = [90, 98, 105, 111, 115, 120];
const peopleTop = [58, 59, 57, 56, 65, 55];
const peopleColor = ["#264259", "#264259", "#264259", "#264259", "#264259", "#5e7480"];
peopleX.forEach((x, i) => {
  const top = peopleTop[i], c = peopleColor[i];
  logo.append("circle").attr("cx", x).attr("cy", top).attr("r", 2.3).attr("fill", c);
  logo.append("rect").attr("x", x - 3.2).attr("y", top + 2.5).attr("width", 6.4).attr("height", 15).attr("rx", 2.5).attr("fill", c);
  logo.append("rect").attr("x", x - 2.6).attr("y", top + 15).attr("width", 2.2).attr("height", 87 - top - 15).attr("fill", c);
  logo.append("rect").attr("x", x + 0.4).attr("y", top + 15).attr("width", 2.2).attr("height", 87 - top - 15).attr("fill", c);
});

// Legend
const legendItems = [
  { label: legendLabels[0], color: colors.red, x: 35, y: 819, w: 207 },
  { label: legendLabels[1], color: colors.yellow, x: 320, y: 819, w: 361 },
  { label: legendLabels[2], color: colors.green, x: 35, y: 871, w: 376 }
];
const legend = svg.selectAll("g.legend-item").data(legendItems).enter().append("g").attr("class", "legend-item");
legend.append("rect").attr("x", d => d.x).attr("y", d => d.y).attr("width", 24).attr("height", 24).attr("rx", 2).attr("fill", d => d.color);
legend.append("text").attr("x", d => d.x + 39).attr("y", d => d.y + 19)
  .attr("textLength", d => d.w).attr("lengthAdjust", "spacingAndGlyphs")
  .style("font-size", "21px").text(d => d.label);

// Notes
const notes = [
  { t: "Map reflects policies in place as of January 2021.", y: 966, w: 351 },
  { t: "Consistent with WORLD\u2019s commitment to advancing universal coverage, this analysis captures the minimum guaranteed level of policy-based protection", y: 1000, w: 1108 },
  { t: "available and does not include protections that are available in some localities, but not nationally.", y: 1024, w: 725 }
];
svg.selectAll("text.note").data(notes).enter().append("text")
  .attr("class", "note").attr("x", 30).attr("y", d => d.y)
  .attr("textLength", d => d.w).attr("lengthAdjust", "spacingAndGlyphs")
  .style("font-size", "16px").text(d => d.t);
svg.append("text").attr("x", 688).attr("y", 1082.5).attr("textLength", 492).attr("lengthAdjust", "spacingAndGlyphs")
  .style("font-size", "18px").text("www.worldpolicycenter.org \u00a9 WORLD Policy Analysis Center");
</script>
</body>
</html>
